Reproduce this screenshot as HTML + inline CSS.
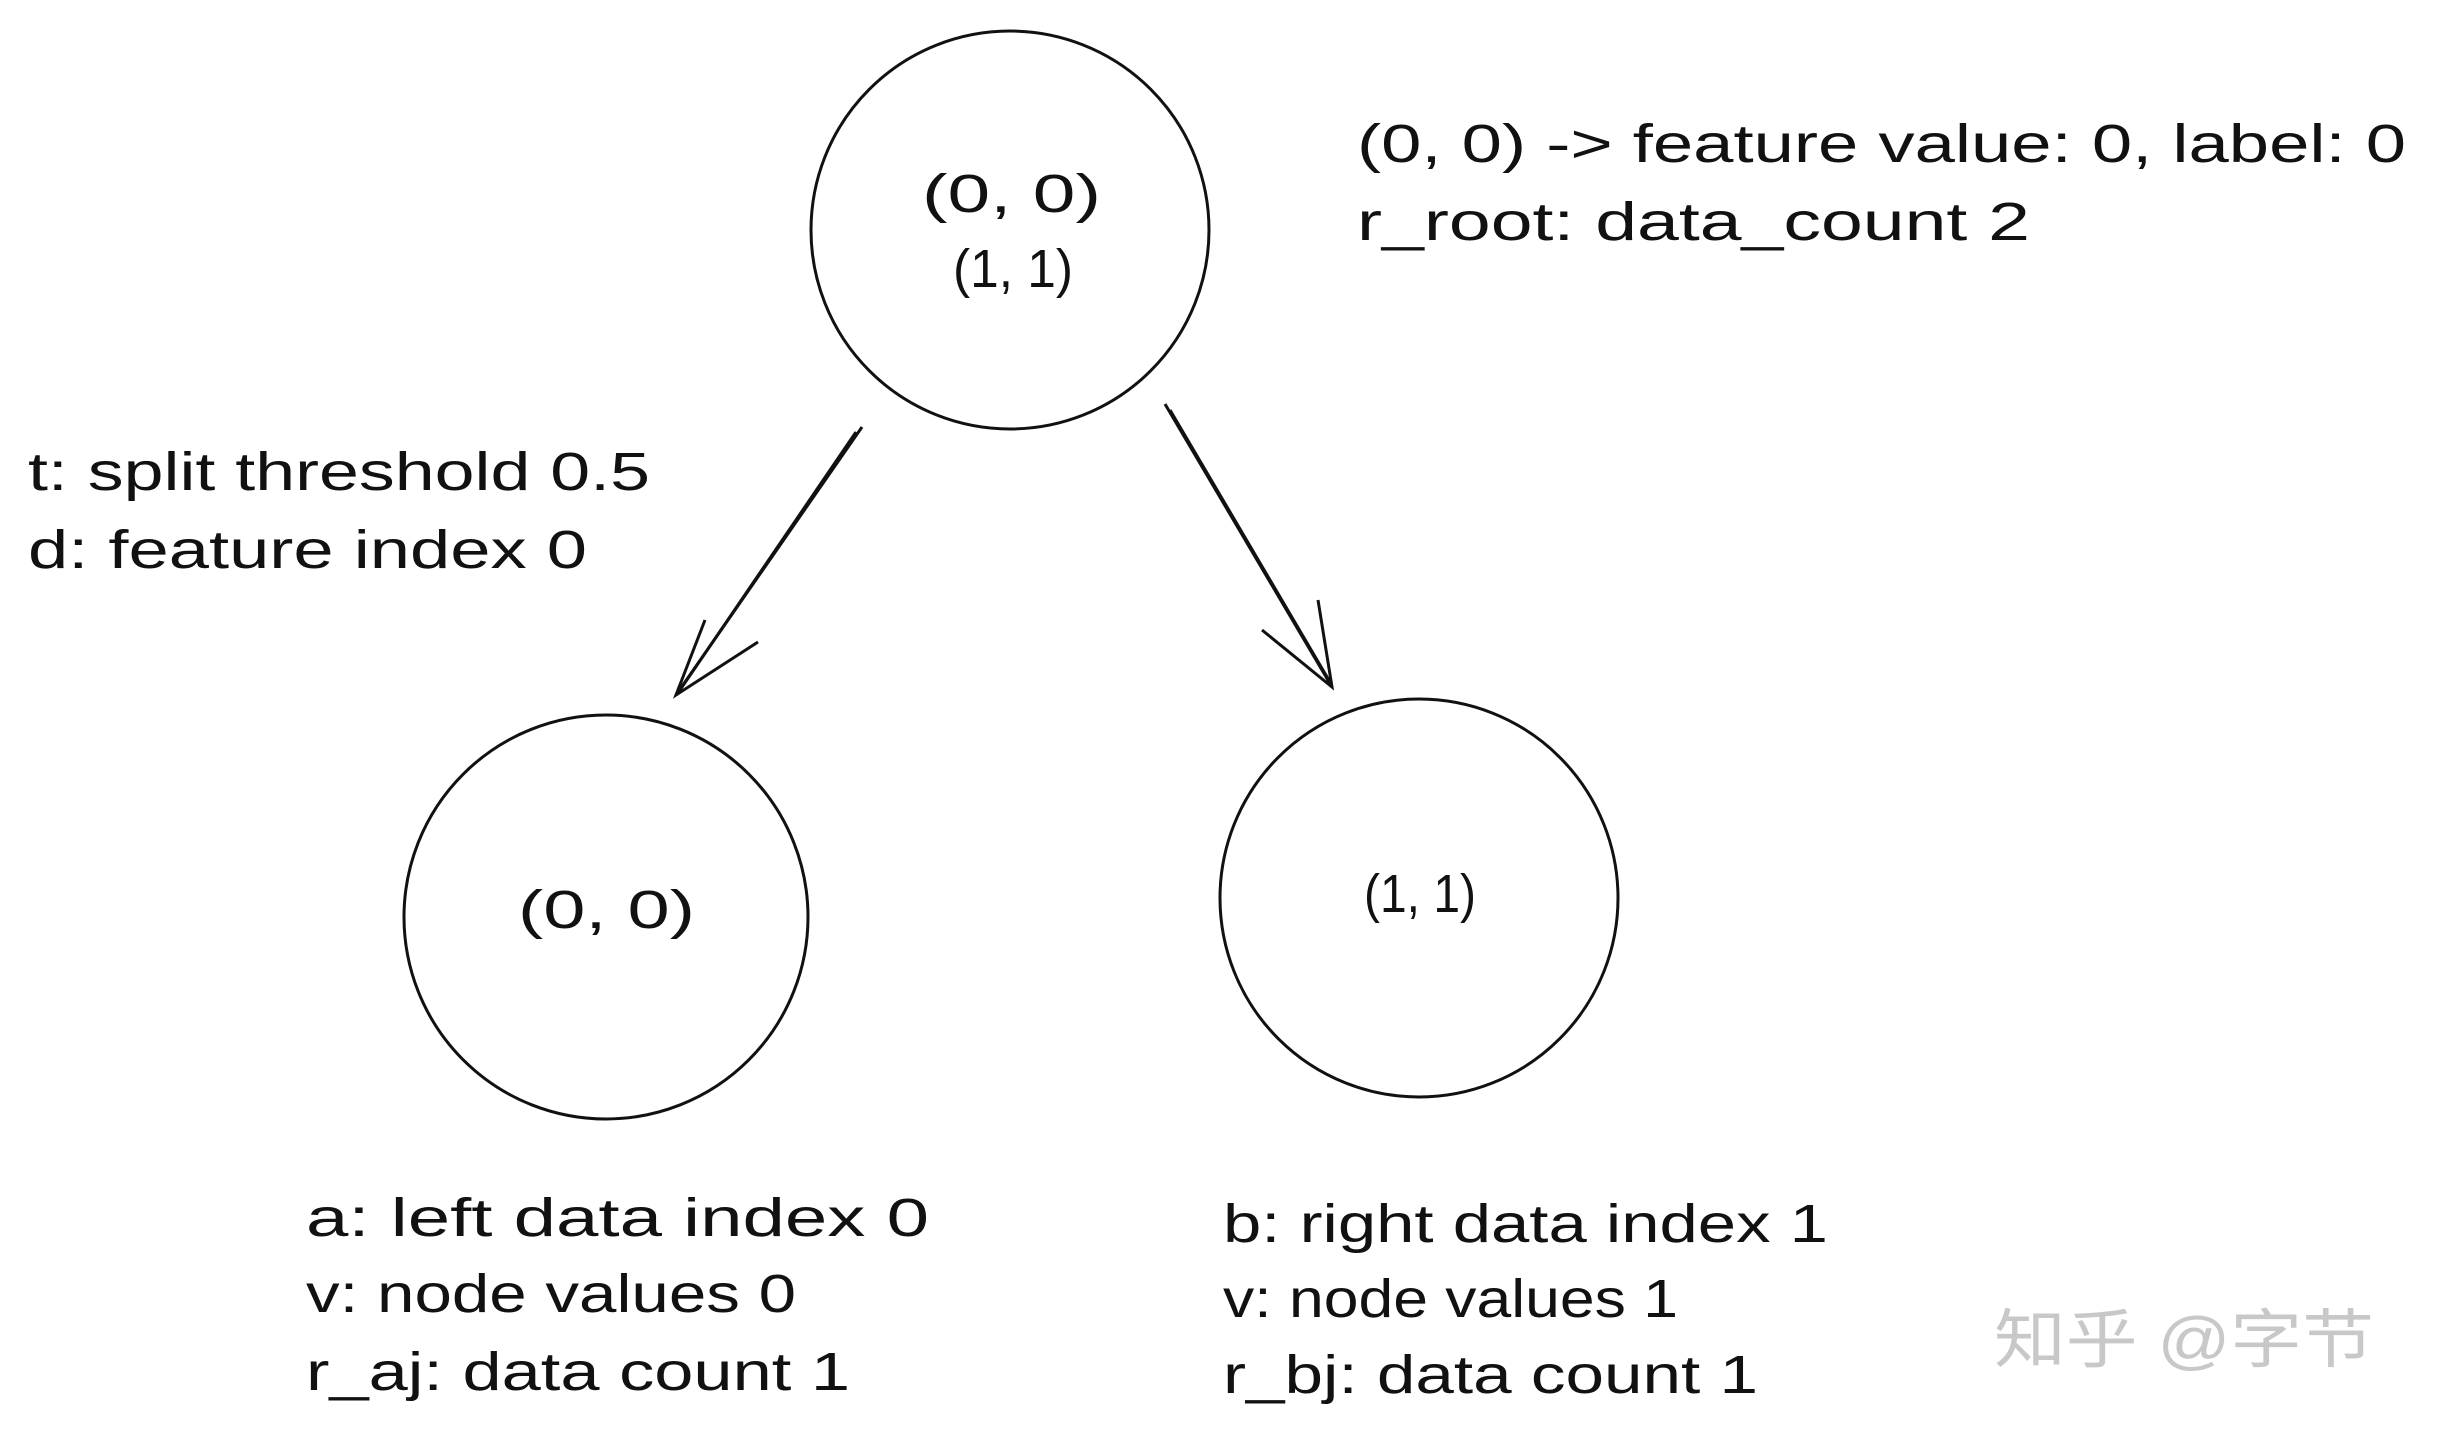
<!DOCTYPE html>
<html><head><meta charset="utf-8"><style>
html,body{margin:0;padding:0;background:#fff;}
svg{display:block;}
text{font-family:"Liberation Sans",sans-serif;font-size:54px;fill:#111;}
</style></head><body>
<svg width="2437" height="1443" viewBox="0 0 2437 1443" xmlns="http://www.w3.org/2000/svg">
<g fill="none" stroke="#111" stroke-width="3">
<circle cx="1010" cy="230" r="199"/>
<circle cx="606" cy="917" r="202"/>
<circle cx="1419" cy="898" r="199"/>
<line x1="862" y1="427" x2="676" y2="695"/>
<line x1="856" y1="432" x2="680" y2="690"/>
<polyline points="705,620 676,695 758,642"/>
<line x1="1165" y1="404" x2="1332" y2="687"/>
<line x1="1170" y1="410" x2="1330" y2="682"/>
<polyline points="1262,630 1332,687 1318,600"/>
</g>
<text x="922" y="212" textLength="179" lengthAdjust="spacingAndGlyphs">(0, 0)</text>
<text x="953" y="287" textLength="120" lengthAdjust="spacingAndGlyphs">(1, 1)</text>
<text x="518" y="928" textLength="177" lengthAdjust="spacingAndGlyphs">(0, 0)</text>
<text x="1364" y="912" textLength="112" lengthAdjust="spacingAndGlyphs">(1, 1)</text>
<text x="1357" y="162" textLength="1049" lengthAdjust="spacingAndGlyphs">(0, 0) -&gt; feature value: 0, label: 0</text>
<text x="1357" y="240" textLength="673" lengthAdjust="spacingAndGlyphs">r_root: data_count 2</text>
<text x="28" y="490" textLength="622" lengthAdjust="spacingAndGlyphs">t: split threshold 0.5</text>
<text x="28" y="568" textLength="559" lengthAdjust="spacingAndGlyphs">d: feature index 0</text>
<text x="306" y="1236" textLength="623" lengthAdjust="spacingAndGlyphs">a: left data index 0</text>
<text x="306" y="1312" textLength="490" lengthAdjust="spacingAndGlyphs">v: node values 0</text>
<text x="306" y="1390" textLength="544" lengthAdjust="spacingAndGlyphs">r_aj: data count 1</text>
<text x="1223" y="1242" textLength="605" lengthAdjust="spacingAndGlyphs">b: right data index 1</text>
<text x="1223" y="1317" textLength="455" lengthAdjust="spacingAndGlyphs">v: node values 1</text>
<text x="1223" y="1393" textLength="535" lengthAdjust="spacingAndGlyphs">r_bj: data count 1</text>
<text x="1994" y="1362" style="font-family:'Liberation Sans','Noto Sans CJK SC',sans-serif;font-size:64px;fill:#c8c8c8" textLength="380" lengthAdjust="spacingAndGlyphs">知乎 @字节</text>
</svg>
</body></html>
